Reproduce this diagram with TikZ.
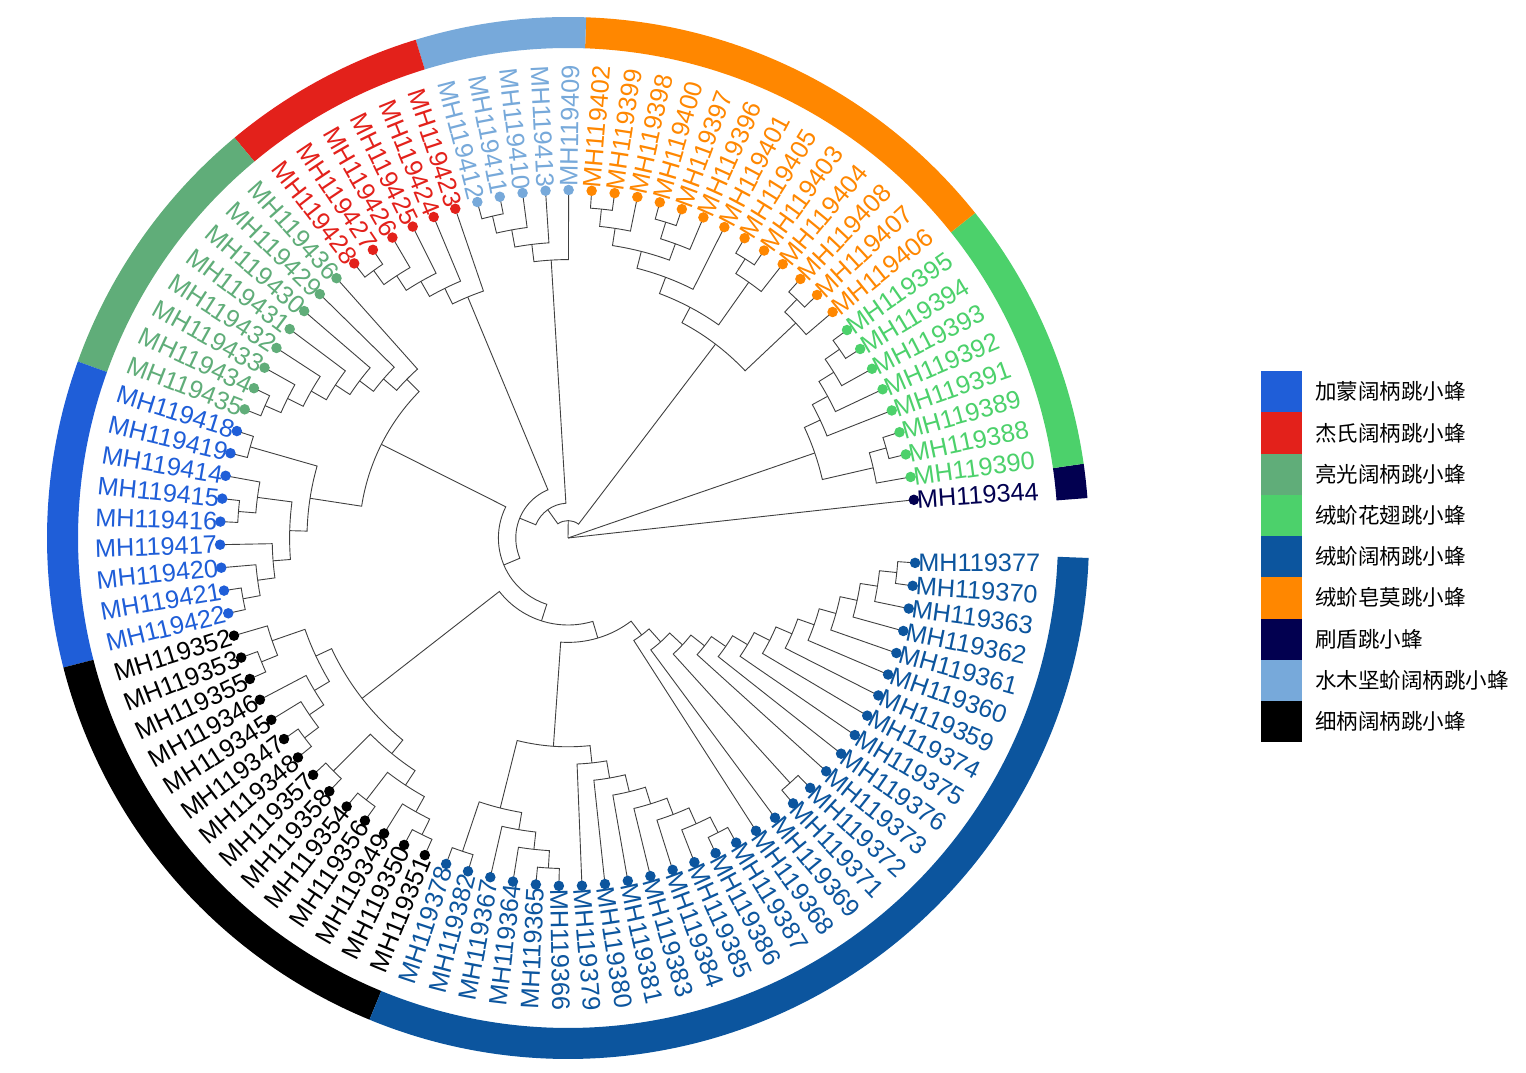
\documentclass[tikz,border=0pt]{standalone}
\usepackage{fontspec}
\setmainfont{Liberation Sans}
\newfontfamily\cjk{Noto Sans CJK SC}
\usetikzlibrary{backgrounds}

\definecolor{jiameng}{HTML}{1F5ED8}
\definecolor{jieshi}{HTML}{E3211B}
\definecolor{liangguang}{HTML}{60AD79}
\definecolor{huachi}{HTML}{4CD16B}
\definecolor{kuobing}{HTML}{0C559E}
\definecolor{zaomo}{HTML}{FF8700}
\definecolor{shuadun}{HTML}{020050}
\definecolor{shuimu}{HTML}{77A9DA}
\definecolor{xibing}{HTML}{000000}

\tikzset{
  branch/.style={draw=black!75, line width=0.9pt},
  tipdot/.style={circle, inner sep=0pt, minimum size=10.5pt},
  tiplab/.style={inner sep=3pt, font=\fontsize{25.3}{30}\selectfont},
  legtext/.style={inner sep=0pt, font=\cjk\fontsize{21.5}{24}\selectfont}
}

% radius of the tips and of one level of the cladogram
\newcommand{\tipR}{348}
\newcommand{\stepR}{17.4}

% a tip: number, place round the circle, colour
\newcommand{\tip}[3]{%
  \pgfmathsetmacro{\tipang}{6.3+3.8*#2}%
  \expandafter\xdef\csname ang@t#1\endcsname{\tipang}%
  \expandafter\xdef\csname hgt@t#1\endcsname{0}%
  \node[tipdot, fill=#3] (t#1) at (\tipang:\tipR) {};%
  % the text turns by 360/93 per tip, not quite as the tips do
  \pgfmathsetmacro{\labang}{360/93*(#2+1)}%
  \ifnum#2<23 \def\flip{0}\else\ifnum#2>68 \def\flip{0}\else\def\flip{1}\fi\fi
  \ifnum\flip=0
    \node[tiplab, text=#3, rotate=\labang, anchor=west] (lab#1) at (t#1.center) {MH119#1};%
  \else
    \pgfmathsetmacro{\labang}{\labang-180}%
    \node[tiplab, text=#3, rotate=\labang, anchor=east] (lab#1) at (t#1.center) {MH119#1};%
  \fi
}

% an inner node: name, two children (height = one more than the higher child)
\newcommand{\clade}[3]{%
  \edef\ca{\csname ang@#2\endcsname}%
  \edef\cb{\csname ang@#3\endcsname}%
  \pgfmathsetmacro{\cang}{(\ca+\cb)/2}%
  \pgfmathtruncatemacro{\chgt}{max(\csname hgt@#2\endcsname,\csname hgt@#3\endcsname)+1}%
  \pgfmathsetmacro{\crad}{\stepR*(20-\chgt)}%
  \expandafter\xdef\csname ang@#1\endcsname{\cang}%
  \expandafter\xdef\csname hgt@#1\endcsname{\chgt}%
  \coordinate (#1) at (\cang:\crad);%
  \begin{scope}[on background layer]
    \draw[branch] (#2.center) -- (\ca:\crad)
      arc[start angle=\ca, end angle=\cb, radius=\crad pt] -- (#3.center);
  \end{scope}%
}

% a band of the outer ring: colour, first tip, last tip
\newcommand{\band}[3]{%
  \pgfmathsetmacro{\bandA}{6.3+3.8*#2-1.9}%
  \pgfmathsetmacro{\bandB}{6.3+3.8*#3+1.9}%
  \fill[#1] (\bandA:490) arc[start angle=\bandA, end angle=\bandB, radius=490pt]
    -- (\bandB:521) arc[start angle=\bandB, end angle=\bandA, radius=521pt] -- cycle;
}

\begin{document}
\begin{tikzpicture}[x=1pt, y=1pt]
  \useasboundingbox (-568,-535) rectangle (958,538);
  \begin{scope}[on background layer]
    \fill[white] (-568,-535) rectangle (958,538);
  \end{scope}

  % outer ring
  \band{shuadun}{0}{0}
  \band{huachi}{1}{8}
  \band{zaomo}{9}{21}
  \band{shuimu}{22}{26}
  \band{jieshi}{27}{32}
  \band{liangguang}{33}{40}
  \band{jiameng}{41}{49}
  \band{xibing}{50}{63}
  \band{kuobing}{64}{92}

  % tips, counter-clockwise from MH119344
  \foreach \nm/\col [count=\i from 0] in {344/shuadun,
    390/huachi, 388/huachi, 389/huachi, 391/huachi, 392/huachi, 393/huachi, 394/huachi, 395/huachi,
    406/zaomo, 407/zaomo, 408/zaomo, 404/zaomo, 403/zaomo, 405/zaomo, 401/zaomo,
    396/zaomo, 397/zaomo, 400/zaomo, 398/zaomo, 399/zaomo, 402/zaomo,
    409/shuimu, 413/shuimu, 410/shuimu, 411/shuimu, 412/shuimu,
    423/jieshi, 424/jieshi, 425/jieshi, 426/jieshi, 427/jieshi, 428/jieshi,
    436/liangguang, 429/liangguang, 430/liangguang, 431/liangguang,
    432/liangguang, 433/liangguang, 434/liangguang, 435/liangguang,
    418/jiameng, 419/jiameng, 414/jiameng, 415/jiameng, 416/jiameng,
    417/jiameng, 420/jiameng, 421/jiameng, 422/jiameng,
    352/xibing, 353/xibing, 355/xibing, 346/xibing, 345/xibing, 347/xibing, 348/xibing,
    357/xibing, 358/xibing, 354/xibing, 356/xibing, 349/xibing, 350/xibing, 351/xibing,
    378/kuobing, 382/kuobing, 367/kuobing, 364/kuobing, 365/kuobing, 366/kuobing,
    379/kuobing, 380/kuobing, 381/kuobing, 383/kuobing, 384/kuobing, 385/kuobing,
    386/kuobing, 387/kuobing, 368/kuobing, 369/kuobing, 371/kuobing, 372/kuobing,
    373/kuobing, 376/kuobing, 375/kuobing, 374/kuobing, 359/kuobing, 360/kuobing,
    361/kuobing, 362/kuobing, 363/kuobing, 370/kuobing, 377/kuobing}
    {\tip{\nm}{\i}{\col}}

  % green group
  \clade{A1}{t395}{t394}
  \clade{A2}{A1}{t393}
  \clade{A3}{A2}{t392}
  \clade{A4}{A3}{t391}
  \clade{B1}{t389}{t388}
  \clade{B2}{B1}{t390}
  \clade{C}{A4}{B2}
  % orange group
  \clade{D1}{t402}{t399}
  \clade{D2}{D1}{t398}
  \clade{D4}{t400}{t397}
  \clade{D5}{D4}{t396}
  \clade{D3}{D2}{D5}
  \clade{D6}{D3}{t401}
  \clade{X1}{t405}{t403}
  \clade{X}{X1}{t404}
  \clade{D7}{D6}{X}
  \clade{Y1}{t408}{t407}
  \clade{Y}{Y1}{t406}
  \clade{D8}{D7}{Y}
  % light blue group
  \clade{E1}{t411}{t412}
  \clade{E2}{t410}{E1}
  \clade{E3}{t413}{E2}
  \clade{E4}{t409}{E3}
  % red group
  \clade{F1}{t427}{t428}
  \clade{F2}{t426}{F1}
  \clade{F3}{t425}{F2}
  \clade{F4}{t424}{F3}
  \clade{F5}{t423}{F4}
  % sea green group
  \clade{G1}{t434}{t435}
  \clade{G2}{t433}{G1}
  \clade{G3}{t432}{G2}
  \clade{G4}{t431}{G3}
  \clade{G5}{t430}{G4}
  \clade{G6}{t429}{G5}
  \clade{G7}{t436}{G6}
  % blue group
  \clade{I1}{t418}{t419}
  \clade{I2}{t415}{t416}
  \clade{I3}{t414}{I2}
  \clade{I4}{t421}{t422}
  \clade{I5}{t420}{I4}
  \clade{I6}{t417}{I5}
  \clade{I7}{I3}{I6}
  \clade{I8}{I1}{I7}
  \clade{H}{G7}{I8}
  % black group
  \clade{J1}{t353}{t355}
  \clade{J2}{t352}{J1}
  \clade{K1}{t347}{t348}
  \clade{K2}{t345}{K1}
  \clade{K3}{t346}{K2}
  \clade{J3}{J2}{K3}
  \clade{M1}{t357}{t358}
  \clade{N1}{t354}{t356}
  \clade{N3}{t350}{t351}
  \clade{N2}{t349}{N3}
  \clade{N}{N1}{N2}
  \clade{M}{M1}{N}
  \clade{J4}{J3}{M}
  % dark blue group, bottom
  \clade{P1}{t378}{t382}
  \clade{Q3}{t365}{t366}
  \clade{Q2}{t364}{Q3}
  \clade{Q}{t367}{Q2}
  \clade{P}{P1}{Q}
  \clade{S7}{t386}{t387}
  \clade{S6}{t385}{S7}
  \clade{S5}{t384}{S6}
  \clade{S4}{t383}{S5}
  \clade{S3}{t381}{S4}
  \clade{S2}{t380}{S3}
  \clade{S}{t379}{S2}
  \clade{R}{P}{S}
  % dark blue group, right
  \clade{U1}{t370}{t377}
  \clade{U2}{t363}{U1}
  \clade{U3}{t362}{U2}
  \clade{U4}{t361}{U3}
  \clade{U5}{t360}{U4}
  \clade{U6}{t359}{U5}
  \clade{U7}{t374}{U6}
  \clade{U8}{t375}{U7}
  \clade{U9}{t376}{U8}
  \clade{U10}{t373}{U9}
  \clade{V}{t371}{t372}
  \clade{U11}{V}{U10}
  \clade{U12}{t369}{U11}
  \clade{T}{t368}{U12}
  % backbone
  \clade{N105}{R}{T}
  \clade{N88}{J4}{N105}
  \clade{N69}{H}{N88}
  \clade{N52}{F5}{N69}
  \clade{N35}{E4}{N52}
  \clade{N17}{D8}{N35}
  % root
  \coordinate (root) at (0,0);
  \begin{scope}[on background layer]
    \draw[branch] (root) -- (t344.center);
    \draw[branch] (root) -- (C);
    \draw[branch] (root) -- (N17);
  \end{scope}

  % legend
  \foreach \col/\txt [count=\k from 0] in {jiameng/加蒙阔柄跳小蜂, jieshi/杰氏阔柄跳小蜂,
      liangguang/亮光阔柄跳小蜂, huachi/绒蚧花翅跳小蜂, kuobing/绒蚧阔柄跳小蜂,
      zaomo/绒蚧皂莫跳小蜂, shuadun/刷盾跳小蜂, shuimu/水木坚蚧阔柄跳小蜂, xibing/细柄阔柄跳小蜂}
  {
    \fill[\col] (693,{167-41.26*\k}) rectangle ++(41,-41.26);
    \node[legtext, anchor=west] (leg\k) at (747,{146.4-41.26*\k}) {\txt};
  }
\end{tikzpicture}
\end{document}
